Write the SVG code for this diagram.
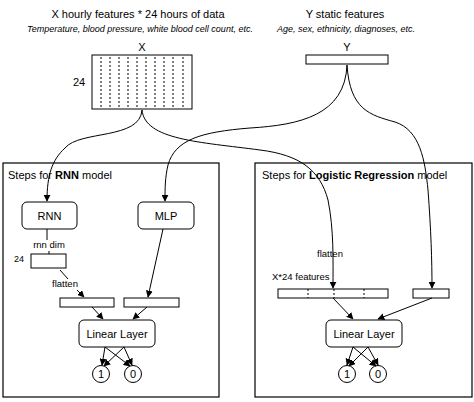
<svg xmlns="http://www.w3.org/2000/svg" width="474" height="402" viewBox="0 0 474 402">
<defs>
<marker id="ah" viewBox="0 0 10 10" refX="9" refY="5" markerWidth="7" markerHeight="7" orient="auto" markerUnits="userSpaceOnUse">
<path d="M0,0 L10,5 L0,10 z" fill="#000"/>
</marker>
<style>
text{font-family:"Liberation Sans",Arial,sans-serif;fill:#000}
.t{font-size:11px;text-anchor:middle}
.s{font-size:9px;font-style:italic;text-anchor:middle}
.m{font-size:11px}
.sm{font-size:9.5px}
.box{fill:#fff;stroke:#000;stroke-width:1}
.panel{fill:#fff;stroke:#000;stroke-width:1.2}
.rb{fill:#fff;stroke:#000;stroke-width:1}
.dash{stroke:#000;stroke-width:1;stroke-dasharray:2,2}
.c{fill:none;stroke:#000;stroke-width:1.2}
.a{fill:none;stroke:#000;stroke-width:1;marker-end:url(#ah)}
</style>
</defs>
<rect width="474" height="402" fill="#fff"/>
<g id="panels">
<rect class="panel" x="3" y="163" width="216" height="234"/>
<rect class="panel" x="255" y="163" width="217" height="234"/>
</g>
<g id="titles">
<text class="t" x="138" y="18">X hourly features * 24 hours of data</text>
<text class="s" x="140" y="32">Temperature, blood pressure, white blood cell count, etc.</text>
<text class="t" x="345" y="18">Y static features</text>
<text class="s" x="346" y="32">Age, sex, ethnicity, diagnoses, etc.</text>
</g>
<g id="x-input">
<text class="t" x="142" y="51">X</text>
<text class="t" x="79" y="86">24</text>
<rect class="box" x="92" y="55" width="100" height="54"/>
<g class="dash">
<line x1="101" y1="57" x2="101" y2="108"/><line x1="110" y1="57" x2="110" y2="108"/>
<line x1="119" y1="57" x2="119" y2="108"/><line x1="128" y1="57" x2="128" y2="108"/>
<line x1="137" y1="57" x2="137" y2="108"/><line x1="146" y1="57" x2="146" y2="108"/>
<line x1="155" y1="57" x2="155" y2="108"/><line x1="164" y1="57" x2="164" y2="108"/>
<line x1="173" y1="57" x2="173" y2="108"/><line x1="183" y1="57" x2="183" y2="108"/>
</g>
</g>
<g id="y-input">
<text class="t" x="347" y="51">Y</text>
<rect class="box" x="306" y="55" width="82" height="9"/>
</g>
<g id="rnn-panel">
<text class="m" x="8" y="179">Steps for <tspan font-weight="bold">RNN</tspan> model</text>
<g id="rnn"><rect class="rb" x="22" y="202" width="55" height="27" rx="5"/><text class="t" x="49.5" y="220">RNN</text></g>
<g id="mlp"><rect class="rb" x="138" y="202" width="56" height="27" rx="5"/><text class="t" x="166" y="220">MLP</text></g>
<text class="sm" x="49" y="248" text-anchor="middle">rnn dim</text>
<text x="19" y="262" font-size="9" text-anchor="middle">24</text>
<rect class="box" x="31" y="254" width="35" height="14"/>
<text class="sm" x="65" y="287" text-anchor="middle">flatten</text>
<rect class="box" x="60" y="298" width="54" height="9"/>
<rect class="box" x="124" y="298" width="55" height="9"/>
<g id="ll1"><rect class="rb" x="79" y="320" width="76" height="27" rx="5"/><text class="t" x="117" y="338">Linear Layer</text></g>
<g id="o1"><circle class="box" cx="101" cy="374" r="8.5"/><text class="t" x="101" y="378">1</text></g>
<g id="o0"><circle class="box" cx="133" cy="374" r="8.5"/><text class="t" x="133" y="378">0</text></g>
</g>
<g id="lr-panel">
<text class="m" x="262" y="179">Steps for <tspan font-weight="bold">Logistic Regression</tspan> model</text>
<text class="sm" x="330" y="257" text-anchor="middle">flatten</text>
<text class="sm" x="272" y="280">X*24 features</text>
<rect class="box" x="278" y="289" width="110" height="9"/>
<g class="dash"><line x1="308" y1="289" x2="308" y2="298"/><line x1="334" y1="289" x2="334" y2="298"/><line x1="364" y1="289" x2="364" y2="298"/></g>
<rect class="box" x="413" y="289" width="36" height="9"/>
<g id="ll2"><rect class="rb" x="326" y="320" width="76" height="27" rx="5"/><text class="t" x="364" y="338">Linear Layer</text></g>
<g id="o1b"><circle class="box" cx="347" cy="374" r="8.5"/><text class="t" x="347" y="378">1</text></g>
<g id="o0b"><circle class="box" cx="378" cy="374" r="8.5"/><text class="t" x="378" y="378">0</text></g>
</g>
<g id="connectors">
<path class="a" d="M142,110 C140,140 80,130 65,148 C52,160 47,175 47,201"/>
<path class="a" d="M142,110 C145,140 200,142 260,150 C300,155 320,170 328,200 C334,230 333,260 333,288"/>
<path class="a" d="M347,65 C345,115 300,125 250,128 C200,132 175,140 168,165 C165,178 165,188 165,201"/>
<path class="a" d="M347,65 C350,110 370,115 395,122 C420,130 425,160 428,190 C431,230 432,260 432,288"/>
<line class="c" x1="47" y1="229" x2="47" y2="240" style="stroke-width:1"/>
<line class="c" x1="49" y1="251" x2="49" y2="254" style="stroke-width:1"/>
<line class="c" x1="60" y1="270" x2="68" y2="279" style="stroke-width:1"/>
<line class="a" x1="77" y1="290" x2="84" y2="297"/>
<line class="a" x1="163" y1="229" x2="148" y2="297"/>
<line class="a" x1="92" y1="307" x2="103" y2="319"/>
<line class="a" x1="147" y1="307" x2="133" y2="319"/>
<line class="a" x1="105" y1="347" x2="102" y2="365"/>
<line class="a" x1="105" y1="347" x2="130" y2="366"/>
<line class="a" x1="124" y1="347" x2="104" y2="366"/>
<line class="a" x1="124" y1="347" x2="132" y2="365"/>
<line class="a" x1="333" y1="298" x2="353" y2="319"/>
<line class="a" x1="432" y1="298" x2="378" y2="319"/>
<line class="a" x1="353" y1="347" x2="347" y2="365"/>
<line class="a" x1="353" y1="347" x2="376" y2="366"/>
<line class="a" x1="368" y1="347" x2="349" y2="366"/>
<line class="a" x1="368" y1="347" x2="378" y2="365"/>
</g>
</svg>
